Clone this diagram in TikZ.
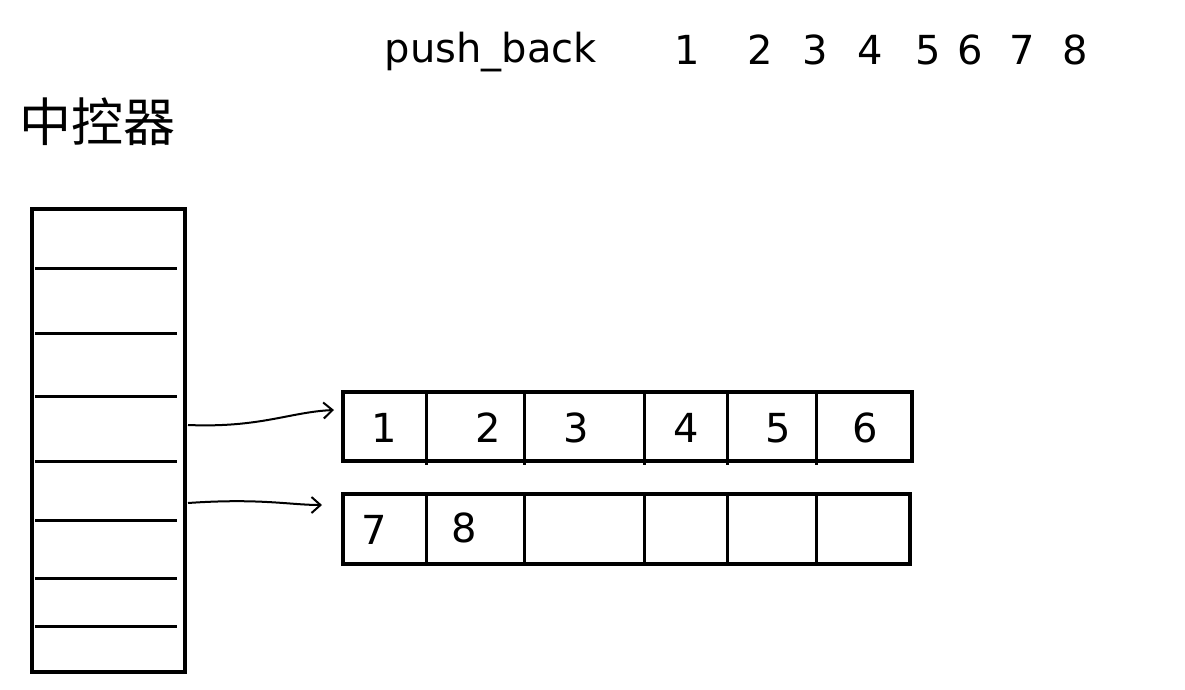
\documentclass[tikz,border=0pt]{standalone}
\usepackage{fontspec}
\setmainfont{DejaVu Sans}
\newfontfamily\cjk{Noto Sans CJK SC}
\usetikzlibrary{arrows.meta}
\begin{document}
\begin{tikzpicture}[x=1pt,y=-1pt,line width=3.5pt,
  lbl/.style={font=\fontsize{40}{46}\selectfont,inner sep=0pt},
  box/.style={draw,line width=3.5pt,inner sep=0pt},
  sep/.style={line width=3pt},
  arr/.style={line width=2pt,-{Straight Barb[length=9pt,width=16pt]}}]
\useasboundingbox (0,0) rectangle (1185,690);
\node[lbl,anchor=west] (title) at (383,52) {push\_back};
\foreach \t/\x in {1/687,2/760,3/815,4/870,5/928,6/970,7/1022,8/1075} \node[lbl] (t\t) at (\x,50) {\t};
\node[font=\fontsize{52}{60}\selectfont,inner sep=0pt,anchor=west] (ctl) at (18,122) {\cjk 中控器};
\node[box,minimum width=153pt,minimum height=463pt,anchor=north west] (map) at (30,207) {};
\foreach \y in {268,333,396,461,520,578,626} \draw[sep] (35,\y) -- (177,\y);
\node[box,minimum width=569pt,minimum height=69pt,anchor=north west] (b1) at (341,390) {};
\node[box,minimum width=567pt,minimum height=70pt,anchor=north west] (b2) at (341,492) {};
\foreach \x in {426,524,644,727,816} {
  \draw[sep] (\x,390) -- (\x,465);
  \draw[sep] (\x,492) -- (\x,566);}
\foreach \t/\x in {1/384,2/488,3/576,4/686,5/778,6/865} \node[lbl] (n\t) at (\x,428) {\t};
\node[lbl] (n7) at (374,530) {7};
\node[lbl] (n8) at (464,528) {8};
\coordinate (a1) at (188,425); \coordinate (a2) at (188,503);
\coordinate (e1) at (334,410); \coordinate (e2) at (322,505);
\draw[arr] (a1) .. controls (260,428) and (290,412) .. (e1);
\draw[arr] (a2) .. controls (260,498) and (290,505) .. (e2);
\end{tikzpicture}
\end{document}
